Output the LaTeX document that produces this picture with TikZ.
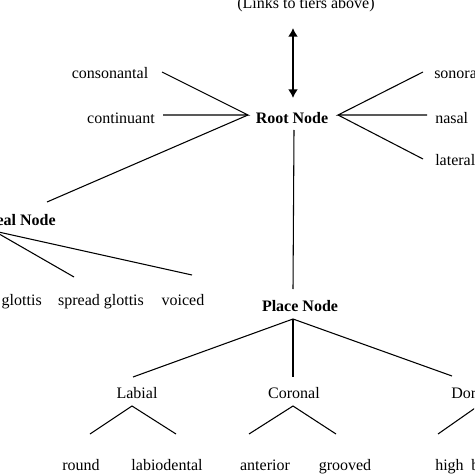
\documentclass[tikz,border=0pt]{standalone}
\usepackage{fontspec}
\setmainfont{Liberation Serif}
\usetikzlibrary{arrows.meta}
\tikzset{
  lbl/.style={inner sep=0pt, anchor=base, font=\fontsize{12}{14}\selectfont},
  bnode/.style={lbl, font=\fontsize{12}{14}\selectfont\bfseries},
  branch/.style={draw=black, line width=0.8pt},
  dblarrow/.style={draw=black, line width=1.5pt, {Latex[length=6.5pt,width=7.5pt]}-{Latex[length=6.5pt,width=7.5pt]}}
}
\begin{document}
\begin{tikzpicture}[x=0.75pt,y=-0.75pt]
\useasboundingbox (0,0) rectangle (474,474);
\clip (0,0) rectangle (474,474);
\fill[white] (0,0) rectangle (474,474);
% text nodes
\node[lbl] (links) at (306,9) {(Links to tiers above)};
\node[lbl] (cons) at (110,79) {consonantal};
\node[lbl] (cont) at (121,123) {continuant};
\node[bnode] (root) at (292,123) {Root Node};
\node[lbl, anchor=base west] (son) at (434,79) {sonorant};
\node[lbl, anchor=base west] (nas) at (435,123) {nasal};
\node[lbl, anchor=base west] (lat) at (435,166) {lateral};
\node[bnode, anchor=base east] (lar) at (56,225) {Laryngeal Node};
\node[lbl, anchor=base east] (cg) at (42,305) {constricted glottis};
\node[lbl] (sg) at (101,305) {spread glottis};
\node[lbl] (voi) at (183,305) {voiced};
\node[bnode] (place) at (300,311) {Place Node};
\node[lbl] (lab) at (137,398) {Labial};
\node[lbl] (cor) at (294,398) {Coronal};
\node[lbl, anchor=base west] (dor) at (451,398) {Dorsal};
\node[lbl] (rnd) at (81,470) {round};
\node[lbl] (labd) at (167,470) {labiodental};
\node[lbl] (ant) at (265,470) {anterior};
\node[lbl] (grv) at (345,470) {grooved};
\node[lbl, anchor=base west] (hi) at (435,470) {high};
\node[lbl, anchor=base west] (bk) at (471,470) {back};
% connector end points
\coordinate (links-s) at (293,28);
\coordinate (root-n) at (293,98);
\coordinate (root-w) at (248,115);
\coordinate (root-e) at (338,115);
\coordinate (root-s) at (294,130);
\coordinate (cons-e) at (162,72);
\coordinate (cont-e) at (163,115);
\coordinate (son-w) at (423,72);
\coordinate (nas-w) at (427,115);
\coordinate (lat-w) at (423,159);
\coordinate (lar-ne) at (47,202);
\coordinate (lar-s) at (-6,231);
\coordinate (cg-n) at (-70,277);
\coordinate (sg-n) at (74,277);
\coordinate (voi-n) at (192,275);
\coordinate (place-n) at (293,289);
\coordinate (place-s) at (293,319);
\coordinate (lab-n) at (133,377);
\coordinate (cor-n) at (293,377);
\coordinate (dor-n) at (452,376);
\coordinate (lab-s) at (132,406);
\coordinate (cor-s) at (293,406);
\coordinate (dor-s) at (478,406);
\coordinate (rnd-n) at (90,434);
\coordinate (labd-n) at (176,434);
\coordinate (ant-n) at (249,434);
\coordinate (grv-n) at (336,434);
\coordinate (hi-n) at (438,434);
\coordinate (bk-n) at (518,434);
% connectors
\draw[dblarrow] (links-s) -- (root-n);
\draw[branch] (cons-e) -- (root-w) -- (cont-e);
\draw[branch] (root-w) -- (lar-ne);
\draw[branch] (son-w) -- (root-e) -- (nas-w);
\draw[branch] (root-e) -- (lat-w);
\draw[branch] (root-s) -- (place-n);
\draw[branch] (cg-n) -- (lar-s) -- (sg-n);
\draw[branch] (lar-s) -- (voi-n);
\draw[branch] (lab-n) -- (place-s) -- (dor-n);
\draw[branch] (place-s) -- (cor-n);
\draw[branch] (rnd-n) -- (lab-s) -- (labd-n);
\draw[branch] (ant-n) -- (cor-s) -- (grv-n);
\draw[branch] (hi-n) -- (dor-s) -- (bk-n);
\end{tikzpicture}
\end{document}
